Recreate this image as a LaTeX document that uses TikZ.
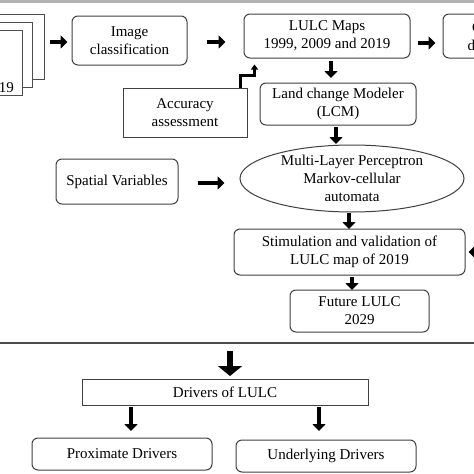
\documentclass[tikz,border=0pt]{standalone}
\usepackage{fontspec}
\setmainfont{Liberation Serif}
\usetikzlibrary{arrows.meta,shapes.geometric,calc}
\tikzset{
  rbox/.style={draw=black!75, line width=1pt, rounded corners=6pt, align=center, inner sep=0pt, fill=white},
  sbox/.style={draw=black!75, line width=1pt, align=center, inner sep=0pt, fill=white},
  sheet/.style={draw=black!70, line width=0.9pt, fill=white},
  barrow/.style={line width=4.6pt, black, -{Triangle[length=7pt,width=13pt]}},
  bigarrow/.style={line width=6pt, black, -{Triangle[length=10pt,width=24pt]}},
  thinarrow/.style={line width=2.2pt, black, -{Triangle[length=5pt,width=7pt]}},
}
\begin{document}
\begin{tikzpicture}[x=1pt,y=-1pt,font=\fontsize{15pt}{18pt}\selectfont]
\useasboundingbox (0,0) rectangle (474,474);
\clip (0,0) rectangle (474,474);
\fill[white] (0,0) rectangle (474,474);
% top gray band
\draw[line width=3pt, black!30] (0,1.5) -- (474,1.5);

% stacked sheets
\node[sheet, minimum width=54pt, minimum height=65pt] (s1) at (17,46.5) {};
\node[sheet, minimum width=42pt, minimum height=65pt] (s2) at (11,54.5) {};
\node[sheet, minimum width=32pt, minimum height=65pt] (s3) at (6,62.5) {};
\node[anchor=east, inner sep=0pt] (syear) at (14,88) {2019};

% top row
\node[rbox, minimum width=115pt, minimum height=49pt] (imgc) at (129.5,40.5) {Image\\classification};
\node[rbox, minimum width=166pt, minimum height=44pt] (lulc) at (327,36) {LULC Maps\\1999, 2009 and 2019};
\node[rbox, minimum width=104pt, minimum height=44pt] (chg) at (495,36) {Change\\detection};

\node[sbox, minimum width=124pt, minimum height=49pt] (acc) at (185,112.5) {Accuracy\\assessment};
\node[rbox, minimum width=156pt, minimum height=42pt] (lcm) at (338,104) {Land change Modeler\\(LCM)};

\node[draw=black!75, line width=1pt, ellipse, align=center, inner sep=0pt, minimum width=224pt, minimum height=67pt] (ell) at (352,178.5) {Multi-Layer Perceptron\\Markov-cellular\\automata};
\node[rbox, minimum width=122pt, minimum height=45pt] (spat) at (117,181.5) {Spatial Variables};

\node[rbox, minimum width=231pt, minimum height=46pt] (stim) at (349.5,252) {Stimulation and validation of\\LULC map of 2019};
\node[rbox, minimum width=139pt, minimum height=42pt] (fut) at (359.5,311) {Future LULC\\2029};

% separator
\draw[line width=1.6pt, black!70] (0,343) -- (474,343);

\node[sbox, minimum width=286pt, minimum height=26pt] (drv) at (225,392) {Drivers of LULC};
\node[rbox, minimum width=180pt, minimum height=32pt] (prox) at (122,454) {Proximate Drivers};
\node[rbox, minimum width=180pt, minimum height=32pt] (und) at (326,456) {Underlying Drivers};

% arrows
\draw[barrow] ([xshift=6pt]s1.east |- 0,42) -- ([xshift=-4pt]imgc.west |- 0,42);
\draw[barrow] ([xshift=19pt]imgc.east |- 0,42) -- ([xshift=-18pt]lulc.west |- 0,42);
\draw[barrow] ([xshift=7pt]lulc.east |- 0,43) -- ([xshift=-7pt]chg.west |- 0,43);
\draw[barrow] (331,61) -- (331,78);
\draw[barrow] (336,127) -- (336,144);
\draw[barrow] ([xshift=19pt]spat.east |- 0,183) -- ([xshift=-15pt]ell.west |- 0,183);
\draw[barrow] (349,213) -- (349,229);
\draw[barrow] (352,277) -- (352,290);
\coordinate (rin) at (500,252);
\draw[barrow] (rin) -- ([xshift=3pt]stim.east);
\draw[thinarrow] ([xshift=-7pt]acc.north east) -- ++(0,-12) -- ++(14,0) -- ++(0,-11);

\coordinate (dtop) at (230,351);
\draw[bigarrow] (dtop) -- (230,376);
\draw[barrow] (131,407) -- (131,431);
\draw[barrow] (319,407) -- (319,431);
\end{tikzpicture}
\end{document}
